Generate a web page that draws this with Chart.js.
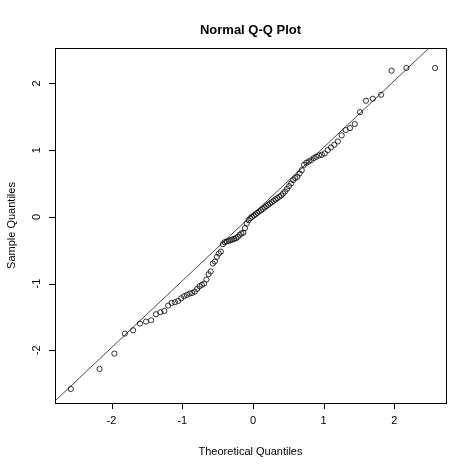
<!DOCTYPE html>
<html><head><meta charset="utf-8">
<script src="https://cdn.jsdelivr.net/npm/chart.js@4"></script>
<style>html,body{margin:0;padding:0;background:#fff}#w{width:474px;height:473px}</style>
</head><body><div id="w"><canvas id="c"></canvas></div>
<script>
const theoretical = [-2.576,-2.170,-1.960,-1.812,-1.695,-1.598,-1.514,-1.440,-1.372,-1.311,-1.254,-1.200,-1.150,-1.103,-1.058,-1.015,-0.974,-0.935,-0.896,-0.860,-0.824,-0.789,-0.755,-0.722,-0.690,-0.659,-0.628,-0.598,-0.568,-0.539,-0.510,-0.482,-0.454,-0.426,-0.399,-0.372,-0.345,-0.319,-0.292,-0.266,-0.240,-0.215,-0.189,-0.164,-0.138,-0.113,-0.088,-0.063,-0.038,-0.013,
0.013,0.038,0.063,0.088,0.113,0.138,0.164,0.189,0.215,0.240,0.266,0.292,0.319,0.345,0.372,0.399,0.426,0.454,0.482,0.510,0.539,0.568,0.598,0.628,0.659,0.690,0.722,0.755,0.789,0.824,0.860,0.896,0.935,0.974,1.015,1.058,1.103,1.150,1.200,1.254,1.311,1.372,1.440,1.514,1.598,1.695,1.812,1.960,2.170,2.576];
const sample = [-2.58,-2.28,-2.05,-1.75,-1.70,-1.60,-1.57,-1.55,-1.46,-1.43,-1.41,-1.33,-1.29,-1.28,-1.26,-1.22,-1.19,-1.17,-1.15,-1.14,-1.12,-1.08,-1.04,-1.02,-1.00,-0.94,-0.86,-0.82,-0.70,-0.67,-0.60,-0.55,-0.52,-0.41,-0.38,-0.37,-0.36,-0.35,-0.34,-0.33,-0.32,-0.30,-0.27,-0.25,-0.24,-0.17,-0.10,-0.05,-0.02,0.00,
0.02,0.04,0.06,0.08,0.10,0.12,0.14,0.16,0.18,0.20,
0.22,0.24,0.26,0.28,0.30,0.32,0.35,0.38,0.42,0.46,
0.50,0.55,0.58,0.60,0.65,0.70,0.78,0.81,0.83,0.85,
0.88,0.90,0.92,0.93,0.95,1.00,1.04,1.08,1.13,1.22,
1.30,1.33,1.39,1.57,1.74,1.77,1.83,2.19,2.23,2.23];
const tickValues = [-2,-1,0,1,2];
const lineX = [-3,3];
const lineSlope = 1.0, lineIntercept = 0.04;

const pts = theoretical.map((x,i)=>({x, y: sample[i]}));
const linePts = lineX.map(x=>({x, y: lineIntercept + lineSlope*x}));
const F = 'Arial, "Liberation Sans", sans-serif';

const deco = {
  id:'deco',
  afterDraw(ch){
    const {ctx, chartArea:a, scales:{x,y}} = ch;
    ctx.save();
    ctx.strokeStyle='#000'; ctx.lineWidth=1; ctx.fillStyle='#000';
    ctx.strokeRect(Math.round(a.left)+0.5, Math.round(a.top)+0.5, Math.round(a.right-a.left), Math.round(a.bottom-a.top));
    ctx.font='11px '+F; ctx.textAlign='center'; ctx.textBaseline='middle';
    ctx.beginPath();
    tickValues.forEach(v=>{
      const px=Math.round(x.getPixelForValue(v))+0.5;
      ctx.moveTo(px,a.bottom); ctx.lineTo(px,a.bottom+6);
      const py=Math.round(y.getPixelForValue(v))+0.5;
      ctx.moveTo(a.left,py); ctx.lineTo(a.left-6,py);
    });
    ctx.stroke();
    tickValues.forEach(v=>{
      ctx.fillText(String(v), x.getPixelForValue(v), a.bottom+18);
      ctx.save(); ctx.translate(a.left-18, y.getPixelForValue(v)); ctx.rotate(-Math.PI/2);
      ctx.fillText(String(v), 0, 0); ctx.restore();
    });
    ctx.fillText('Theoretical Quantiles', (a.left+a.right)/2, 452);
    ctx.save(); ctx.translate(12,(a.top+a.bottom)/2); ctx.rotate(-Math.PI/2);
    ctx.fillText('Sample Quantiles',0,0); ctx.restore();
    ctx.font='bold 13px '+F;
    ctx.fillText('Normal Q-Q Plot', (a.left+a.right)/2, 30);
    ctx.restore();
  }
};

new Chart(document.getElementById('c'), {
  type:'scatter',
  data:{datasets:[
    {data:pts, pointStyle:'circle', pointRadius:2.6, pointBorderWidth:0.8, borderColor:'#000', backgroundColor:'rgba(0,0,0,0)', showLine:false},
    {data:linePts, showLine:true, pointRadius:0, borderColor:'#333', borderWidth:0.9, fill:false}
  ]},
  options:{
    responsive:true, maintainAspectRatio:false, animation:false,
    layout:{padding:{top:48,right:28,left:0,bottom:0}},
    plugins:{legend:{display:false},tooltip:{enabled:false}},
    scales:{
      x:{type:'linear',min:-2.8,max:2.73,grid:{display:false},border:{display:false},ticks:{display:false},afterFit(s){s.height=70;}},
      y:{type:'linear',min:-2.79,max:2.53,grid:{display:false},border:{display:false},ticks:{display:false},afterFit(s){s.width=55;}}
    }
  },
  plugins:[deco]
});
</script></body></html>
